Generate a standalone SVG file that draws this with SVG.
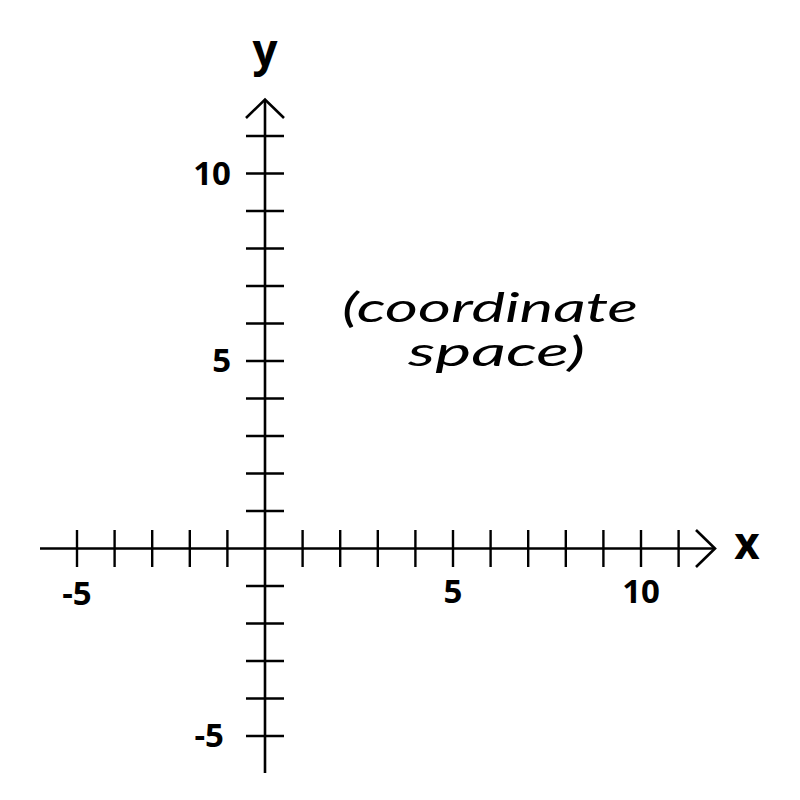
<svg xmlns="http://www.w3.org/2000/svg" width="800" height="800" viewBox="0 0 800 800">
<style>
.ax{stroke:#000;stroke-width:2.6;fill:none;stroke-linecap:butt}
.tk{stroke:#000;stroke-width:2.4}
.lb{font-family:"Open Sans","Liberation Sans",sans-serif;font-weight:bold;font-size:33px;fill:#000}
.al{font-family:"Open Sans","Liberation Sans",sans-serif;font-weight:bold;font-size:44px;fill:#000;text-anchor:middle}
.hw{font-family:"Lato","Open Sans",sans-serif;font-style:italic;font-weight:normal;font-size:40px;fill:#000}
</style>
<rect width="800" height="800" fill="#fff"/>
<g id="axes">
<line class="ax" x1="40" y1="548.5" x2="714" y2="548.5"/>
<polyline class="ax" points="696,530 715,548.5 696,567"/>
<line class="ax" x1="265" y1="101" x2="265" y2="773"/>
<polyline class="ax" points="246,118 265,99.5 284,118"/>
</g>
<g id="x-ticks" class="tk">
<line x1="77" y1="530" x2="77" y2="567"/>
<line x1="114.6" y1="530" x2="114.6" y2="567"/>
<line x1="152.2" y1="530" x2="152.2" y2="567"/>
<line x1="189.8" y1="530" x2="189.8" y2="567"/>
<line x1="227.4" y1="530" x2="227.4" y2="567"/>
<line x1="302.6" y1="530" x2="302.6" y2="567"/>
<line x1="340.2" y1="530" x2="340.2" y2="567"/>
<line x1="377.8" y1="530" x2="377.8" y2="567"/>
<line x1="415.4" y1="530" x2="415.4" y2="567"/>
<line x1="453" y1="530" x2="453" y2="567"/>
<line x1="490.6" y1="530" x2="490.6" y2="567"/>
<line x1="528.2" y1="530" x2="528.2" y2="567"/>
<line x1="565.8" y1="530" x2="565.8" y2="567"/>
<line x1="603.4" y1="530" x2="603.4" y2="567"/>
<line x1="641" y1="530" x2="641" y2="567"/>
<line x1="678.6" y1="530" x2="678.6" y2="567"/>
</g>
<g id="y-ticks" class="tk">
<line x1="246" y1="136" x2="284" y2="136"/>
<line x1="246" y1="173.5" x2="284" y2="173.5"/>
<line x1="246" y1="211" x2="284" y2="211"/>
<line x1="246" y1="248.5" x2="284" y2="248.5"/>
<line x1="246" y1="286" x2="284" y2="286"/>
<line x1="246" y1="323.5" x2="284" y2="323.5"/>
<line x1="246" y1="361" x2="284" y2="361"/>
<line x1="246" y1="398.5" x2="284" y2="398.5"/>
<line x1="246" y1="436" x2="284" y2="436"/>
<line x1="246" y1="473.5" x2="284" y2="473.5"/>
<line x1="246" y1="511" x2="284" y2="511"/>
<line x1="246" y1="586" x2="284" y2="586"/>
<line x1="246" y1="623.5" x2="284" y2="623.5"/>
<line x1="246" y1="661" x2="284" y2="661"/>
<line x1="246" y1="698.5" x2="284" y2="698.5"/>
<line x1="246" y1="736" x2="284" y2="736"/>
</g>
<g id="labels">
<text class="al" x="265" y="66">y</text>
<text class="al" x="747" y="559">x</text>
<text class="lb" x="77" y="605" text-anchor="middle">-5</text>
<text class="lb" x="453" y="603" text-anchor="middle">5</text>
<text class="lb" x="641" y="603" text-anchor="middle">10</text>
<text class="lb" x="231" y="185" text-anchor="end">10</text>
<text class="lb" x="231" y="372" text-anchor="end">5</text>
<text class="lb" x="224" y="747" text-anchor="end">-5</text>
</g>
<g id="note">
<text class="hw" x="342" y="322" textLength="296" lengthAdjust="spacingAndGlyphs">(coordinate</text>
<text class="hw" x="408" y="366" textLength="177" lengthAdjust="spacingAndGlyphs">space)</text>
</g>
</svg>
